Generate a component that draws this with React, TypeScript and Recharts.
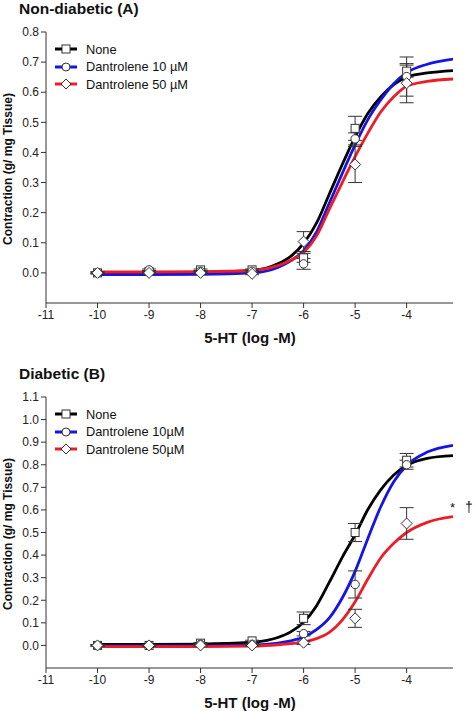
import React from "react";
import { ComposedChart, Line, Scatter, XAxis, YAxis, ErrorBar } from "recharts";

// concentrations (log M) where points were measured
const doses = [-10, -9, -8, -7, -6, -5, -4];
const curveX = [-10, -9, -8, -7, -6.5, -6.25, -6, -5.75, -5.5, -5.25, -5, -4.75, -4.5, -4.25, -4, -3.6, -3.1];

const xTicks = [-11, -10, -9, -8, -7, -6, -5, -4];
const yTicksA = [0, 0.1, 0.2, 0.3, 0.4, 0.5, 0.6, 0.7, 0.8];
const yTicksB = [0, 0.1, 0.2, 0.3, 0.4, 0.5, 0.6, 0.7, 0.8, 0.9, 1.0, 1.1];

// Non-diabetic (A)
const noneA = [0.0, 0.005, 0.01, 0.01, 0.05, 0.48, 0.67];
const noneAErr = [0.003, 0.003, 0.003, 0.003, 0.015, 0.04, 0.02];
const dan10A = [0.0, 0.01, 0.005, 0.005, 0.03, 0.445, 0.652];
const dan10AErr = [0.003, 0.003, 0.003, 0.003, 0.018, 0.02, 0.065];
const dan50A = [0.0, 0.0, 0.0, -0.003, 0.104, 0.36, 0.63];
const dan50AErr = [0.003, 0.003, 0.003, 0.003, 0.033, 0.06, 0.065];

const fitNoneA = [0.0, 0.0, 0.002, 0.008, 0.03, 0.055, 0.098, 0.165, 0.262, 0.36, 0.452, 0.53, 0.585, 0.625, 0.65, 0.664, 0.672];
const fitDan10A = [-0.006, -0.006, -0.005, 0.0, 0.018, 0.04, 0.074, 0.135, 0.232, 0.33, 0.425, 0.51, 0.575, 0.628, 0.665, 0.693, 0.71];
const fitDan50A = [0.003, 0.003, 0.004, 0.008, 0.024, 0.042, 0.068, 0.122, 0.212, 0.3, 0.386, 0.465, 0.535, 0.585, 0.62, 0.636, 0.644];

// Diabetic (B)
const noneB = [0.0, 0.0, 0.01, 0.02, 0.12, 0.5, 0.82];
const noneBErr = [0.003, 0.003, 0.003, 0.003, 0.028, 0.04, 0.03];
const dan10B = [0.0, 0.0, 0.005, 0.005, 0.052, 0.27, 0.8];
const dan10BErr = [0.003, 0.003, 0.003, 0.003, 0.01, 0.06, 0.02];
const dan50B = [0.0, 0.0, 0.0, 0.0, 0.012, 0.12, 0.54];
const dan50BErr = [0.003, 0.003, 0.003, 0.003, 0.008, 0.04, 0.07];

const fitNoneB = [0.005, 0.005, 0.006, 0.014, 0.035, 0.06, 0.103, 0.175, 0.28, 0.39, 0.49, 0.603, 0.69, 0.755, 0.797, 0.828, 0.84];
const fitDan10B = [-0.002, -0.002, -0.002, 0.002, 0.01, 0.02, 0.037, 0.07, 0.122, 0.21, 0.328, 0.475, 0.615, 0.725, 0.797, 0.856, 0.886];
const fitDan50B = [-0.005, -0.005, -0.005, -0.003, 0.003, 0.008, 0.015, 0.03, 0.058, 0.112, 0.193, 0.295, 0.388, 0.452, 0.5, 0.545, 0.57];

const FONT = '"Liberation Sans", Arial, sans-serif';
const MARK = "#333";

const toPoints = (ys: number[], errs: number[]) =>
  doses.map((x, i) => ({ x, y: ys[i], err: errs[i] }));
const toCurve = (ys: number[]) => curveX.map((x, i) => ({ x, y: ys[i] }));

const Square = (p: any) => (
  <rect x={p.cx - 4} y={p.cy - 4} width={8} height={8} fill="#fff" stroke={MARK} strokeWidth={1} />
);
const Circle = (p: any) => <circle cx={p.cx} cy={p.cy} r={4.2} fill="#fff" stroke={MARK} strokeWidth={1} />;
const Diamond = (p: any) => (
  <polygon
    points={`${p.cx},${p.cy - 5.5} ${p.cx + 5.5},${p.cy} ${p.cx},${p.cy + 5.5} ${p.cx - 5.5},${p.cy}`}
    fill="#fff"
    stroke={MARK}
    strokeWidth={1}
  />
);
const NoMark = () => <g />;

const series = [
  { color: "#000000", shape: Square, kind: "square" },
  { color: "#1414e6", shape: Circle, kind: "circle" },
  { color: "#ee1c24", shape: Diamond, kind: "diamond" },
];

const LegendIcon = ({ color, kind }: { color: string; kind: string }) => (
  <svg width={22} height={12} style={{ display: "block" }}>
    <line x1={0} y1={6} x2={22} y2={6} stroke={color} strokeWidth={3} />
    {kind === "square" && <rect x={7} y={2} width={8} height={8} fill="#fff" stroke={MARK} />}
    {kind === "circle" && <circle cx={11} cy={6} r={4} fill="#fff" stroke={MARK} />}
    {kind === "diamond" && <polygon points="11,1 16,6 11,11 6,6" fill="#fff" stroke={MARK} />}
  </svg>
);

interface PanelProps {
  top: number;
  title: string;
  yMax: number;
  yTicks: number[];
  points: { x: number; y: number; err: number }[][];
  curves: { x: number; y: number }[][];
  labels: string[];
}

const Panel = ({ top, title, yMax, yTicks, points, curves, labels }: PanelProps) => (
  <>
    <div
      style={{
        position: "absolute",
        left: 19,
        top: top,
        fontFamily: FONT,
        fontWeight: "bold",
        fontSize: 15.5,
        lineHeight: "18px",
        color: "#111",
        whiteSpace: "nowrap",
      }}
    >
      {title}
    </div>
    <div style={{ position: "absolute", left: 0, top: top }}>
      <ComposedChart width={474} height={346} margin={{ top: 32, right: 21, bottom: 0, left: 0 }}>
        <XAxis
          dataKey="x"
          type="number"
          domain={[-11, -3.1]}
          ticks={xTicks}
          allowDataOverflow
          height={43}
          tickSize={5}
          stroke="#333"
          tick={{ fontSize: 12, fill: "#222", fontFamily: FONT }}
        />
        <YAxis
          type="number"
          domain={[-0.1, yMax]}
          ticks={yTicks}
          allowDataOverflow
          width={46}
          tickSize={5}
          stroke="#333"
          tickFormatter={(v: number) => v.toFixed(1)}
          tick={{ fontSize: 12, fill: "#222", fontFamily: FONT }}
        />
        {curves.map((c, i) => (
          <Line
            key={"c" + i}
            data={c}
            dataKey="y"
            type="monotone"
            stroke={series[i].color}
            strokeWidth={2.8}
            dot={false}
            isAnimationActive={false}
          />
        ))}
        {points.map((p, i) => (
          <Scatter key={"e" + i} data={p} dataKey="y" shape={NoMark} isAnimationActive={false}>
            <ErrorBar dataKey="err" direction="y" width={7} stroke={MARK} strokeWidth={1} />
          </Scatter>
        ))}
        {points.map((p, i) => (
          <Scatter key={"p" + i} data={p} dataKey="y" shape={series[i].shape} isAnimationActive={false} />
        ))}
      </ComposedChart>
    </div>
    <div
      style={{
        position: "absolute",
        left: 8,
        top: top + 169,
        transform: "translate(-50%, -50%) rotate(-90deg)",
        fontFamily: FONT,
        fontWeight: "bold",
        fontSize: 12,
        color: "#111",
        whiteSpace: "nowrap",
      }}
    >
      Contraction (g/ mg Tissue)
    </div>
    <div
      style={{
        position: "absolute",
        left: 250,
        top: top + 337,
        transform: "translate(-50%, -50%)",
        fontFamily: FONT,
        fontWeight: "bold",
        fontSize: 15,
        color: "#111",
        whiteSpace: "nowrap",
      }}
    >
      5-HT (log -M)
    </div>
    {labels.map((l, i) => (
      <div
        key={l}
        style={{
          position: "absolute",
          left: 55,
          top: top + 49 + i * 17.5 - 7,
          height: 14,
          display: "flex",
          alignItems: "center",
          fontFamily: FONT,
          fontSize: 12.8,
          color: "#111",
          whiteSpace: "nowrap",
        }}
      >
        <LegendIcon color={series[i].color} kind={series[i].kind} />
        <span style={{ marginLeft: 9 }}>{l}</span>
      </div>
    ))}
  </>
);

export default function App() {
  return (
    <div style={{ position: "absolute", left: 0, top: 0, width: 474, height: 711, background: "#fff", overflow: "hidden" }}>
      <Panel
        top={0}
        title="Non-diabetic (A)"
        yMax={0.8}
        yTicks={yTicksA}
        points={[toPoints(noneA, noneAErr), toPoints(dan10A, dan10AErr), toPoints(dan50A, dan50AErr)]}
        curves={[toCurve(fitNoneA), toCurve(fitDan10A), toCurve(fitDan50A)]}
        labels={["None", "Dantrolene 10 \u00b5M", "Dantrolene 50 \u00b5M"]}
      />
      <Panel
        top={365}
        title="Diabetic (B)"
        yMax={1.1}
        yTicks={yTicksB}
        points={[toPoints(noneB, noneBErr), toPoints(dan10B, dan10BErr), toPoints(dan50B, dan50BErr)]}
        curves={[toCurve(fitNoneB), toCurve(fitDan10B), toCurve(fitDan50B)]}
        labels={["None", "Dantrolene 10\u00b5M", "Dantrolene 50\u00b5M"]}
      />
      <div style={{ position: "absolute", left: 450, top: 500, fontFamily: FONT, fontSize: 13, color: "#111", lineHeight: "16px" }}>
        *
      </div>
      <div style={{ position: "absolute", left: 465, top: 499, fontFamily: FONT, fontSize: 14, color: "#111", lineHeight: "16px" }}>
        †
      </div>
    </div>
  );
}
